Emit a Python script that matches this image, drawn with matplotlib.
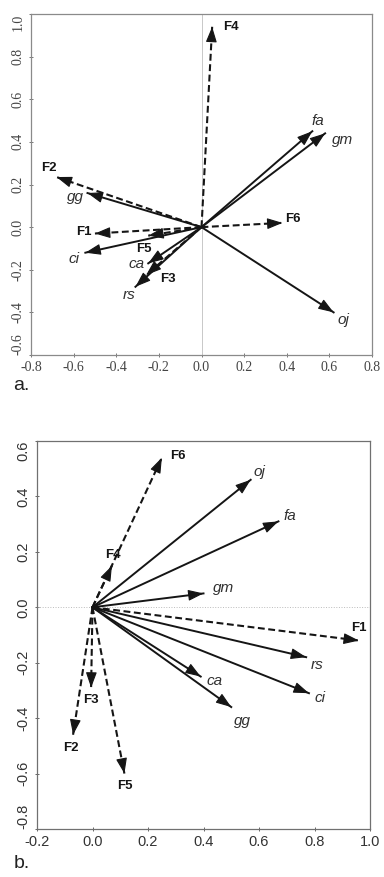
'''
Biplot style arrows for two factor analyses (panels a and b)
'''

import matplotlib
matplotlib.use("Agg")
from matplotlib import pyplot as plt

# panel a: variables (solid) and factors (dashed)
a_vars = ['fa', 'gm', 'gg', 'ci', 'ca', 'rs', 'oj']
a_vars_x = [0.52, 0.58, -0.535, -0.545, -0.25, -0.31, 0.62]
a_vars_y = [0.45, 0.44, 0.16, -0.12, -0.17, -0.28, -0.40]
a_facs = ['F1', 'F2', 'F3', 'F4', 'F5', 'F6']
a_facs_x = [-0.50, -0.68, -0.26, 0.05, -0.25, 0.38]
a_facs_y = [-0.03, 0.235, -0.225, 0.94, -0.04, 0.02]

# panel b
b_vars = ['oj', 'fa', 'gm', 'rs', 'ci', 'ca', 'gg']
b_vars_x = [0.57, 0.67, 0.40, 0.77, 0.78, 0.39, 0.50]
b_vars_y = [0.46, 0.31, 0.05, -0.18, -0.31, -0.25, -0.36]
b_facs = ['F1', 'F2', 'F3', 'F4', 'F5', 'F6']
b_facs_x = [0.96, -0.07, -0.005, 0.07, 0.115, 0.25]
b_facs_y = [-0.12, -0.46, -0.29, 0.15, -0.60, 0.54]

a_xticks = [-0.8, -0.6, -0.4, -0.2, 0.0, 0.2, 0.4, 0.6, 0.8]
a_yticks = [-0.6, -0.4, -0.2, 0.0, 0.2, 0.4, 0.6, 0.8, 1.0]
b_xticks = [-0.2, 0.0, 0.2, 0.4, 0.6, 0.8, 1.0]
b_yticks = [-0.8, -0.6, -0.4, -0.2, 0.0, 0.2, 0.4, 0.6]

# label offsets in pixels from the arrow tip
a_vars_off = {'fa': (6, 10), 'gm': (17, -7), 'gg': (-12, -4), 'ci': (-11, -6),
              'ca': (-12, -1), 'rs': (-6, -8), 'oj': (10, -8)}
a_facs_off = {'F1': (-11, 2), 'F2': (-8, 9), 'F3': (22, -4), 'F4': (19, 0),
              'F5': (-4, -13), 'F6': (10, 4)}
b_vars_off = {'oj': (9, 8), 'fa': (11, 5), 'gm': (20, 5), 'rs': (11, -8),
              'ci': (11, -5), 'ca': (14, -4), 'gg': (11, -14)}
b_facs_off = {'F1': (0, 13), 'F2': (-2, -13), 'F3': (0, -12), 'F4': (1, 11),
              'F5': (0, -12), 'F6': (16, 2)}

INK = '#151515'


def draw_arrow(ax, x, y, dashed):
    if dashed:
        ax.plot([0, x], [0, y], color=INK, lw=1.5, dashes=(3.3, 1.7),
                solid_capstyle='butt')
    else:
        ax.plot([0, x], [0, y], color=INK, lw=1.4)
    ax.annotate('', xy=(x, y), xytext=(x * 0.97, y * 0.97),
                arrowprops=dict(arrowstyle='-|>,head_length=0.95,head_width=0.34',
                                mutation_scale=10, color=INK, lw=0.8,
                                shrinkA=0, shrinkB=0))


def draw_panel(ax, names, xs, ys, offs, dashed):
    for n, x, y in zip(names, xs, ys):
        draw_arrow(ax, x, y, dashed)
        dx, dy = offs[n]
        if dashed:
            ax.annotate(n, (x, y), xytext=(dx, dy), textcoords='offset pixels',
                        ha='center', va='center', fontsize=9.5,
                        fontweight='bold', family='Liberation Sans', color=INK)
        else:
            ax.annotate(n, (x, y), xytext=(dx, dy), textcoords='offset pixels',
                        ha='center', va='center', fontsize=11,
                        style='italic', family='Liberation Sans', color='#303030')


def set_ticks(ax, xt, yt, family, size, color):
    ax.set_xticks(xt)
    ax.set_yticks(yt)
    ax.set_xticklabels(['%.1f' % t for t in xt], family=family,
                       fontsize=size, color=color)
    labs = ax.set_yticklabels(['%.1f' % t for t in yt], family=family,
                              fontsize=size, color=color, rotation=90,
                              va='center')
    # end labels are kept inside the axis range
    labs[0].set_va('bottom')
    labs[-1].set_va('top')


fig = plt.figure(figsize=(3.84, 8.77), dpi=100)

# panel a
ax1 = fig.add_axes([31 / 384, 1 - 355 / 877, 341 / 384, 341 / 877])
ax1.axvline(0, color='#c8c8c8', lw=0.7)
draw_panel(ax1, a_vars, a_vars_x, a_vars_y, a_vars_off, False)
draw_panel(ax1, a_facs, a_facs_x, a_facs_y, a_facs_off, True)
ax1.set_xlim(-0.8, 0.8)
ax1.set_ylim(-0.6, 1.0)
set_ticks(ax1, a_xticks, a_yticks, 'Liberation Serif', 10, '#444444')
ax1.tick_params(direction='inout', length=3, width=0.7, color='#777777', pad=3)
for s in ax1.spines.values():
    s.set_color('#8a8a8a')
    s.set_linewidth(0.9)
fig.text(13 / 384, 1 - 385 / 877, 'a.', family='Liberation Sans', fontsize=14,
         va='center', color='#222222')

# panel b
ax2 = fig.add_axes([37 / 384, 1 - 829 / 877, 333 / 384, 388 / 877])
ax2.axhline(0, color='#bbbbbb', lw=0.7, ls=':')
draw_panel(ax2, b_vars, b_vars_x, b_vars_y, b_vars_off, False)
draw_panel(ax2, b_facs, b_facs_x, b_facs_y, b_facs_off, True)
ax2.set_xlim(-0.2, 1.0)
ax2.set_ylim(-0.8, 0.6)
set_ticks(ax2, b_xticks, b_yticks, 'Liberation Sans', 10.5, '#333333')
ax2.tick_params(direction='inout', length=3, width=0.7, color='#666666', pad=3)
for s in ax2.spines.values():
    s.set_color('#707070')
    s.set_linewidth(0.9)
fig.text(14 / 384, 1 - 863 / 877, 'b.', family='Liberation Sans', fontsize=14,
         va='center', color='#222222')

plt.savefig('out.png', dpi=100)
